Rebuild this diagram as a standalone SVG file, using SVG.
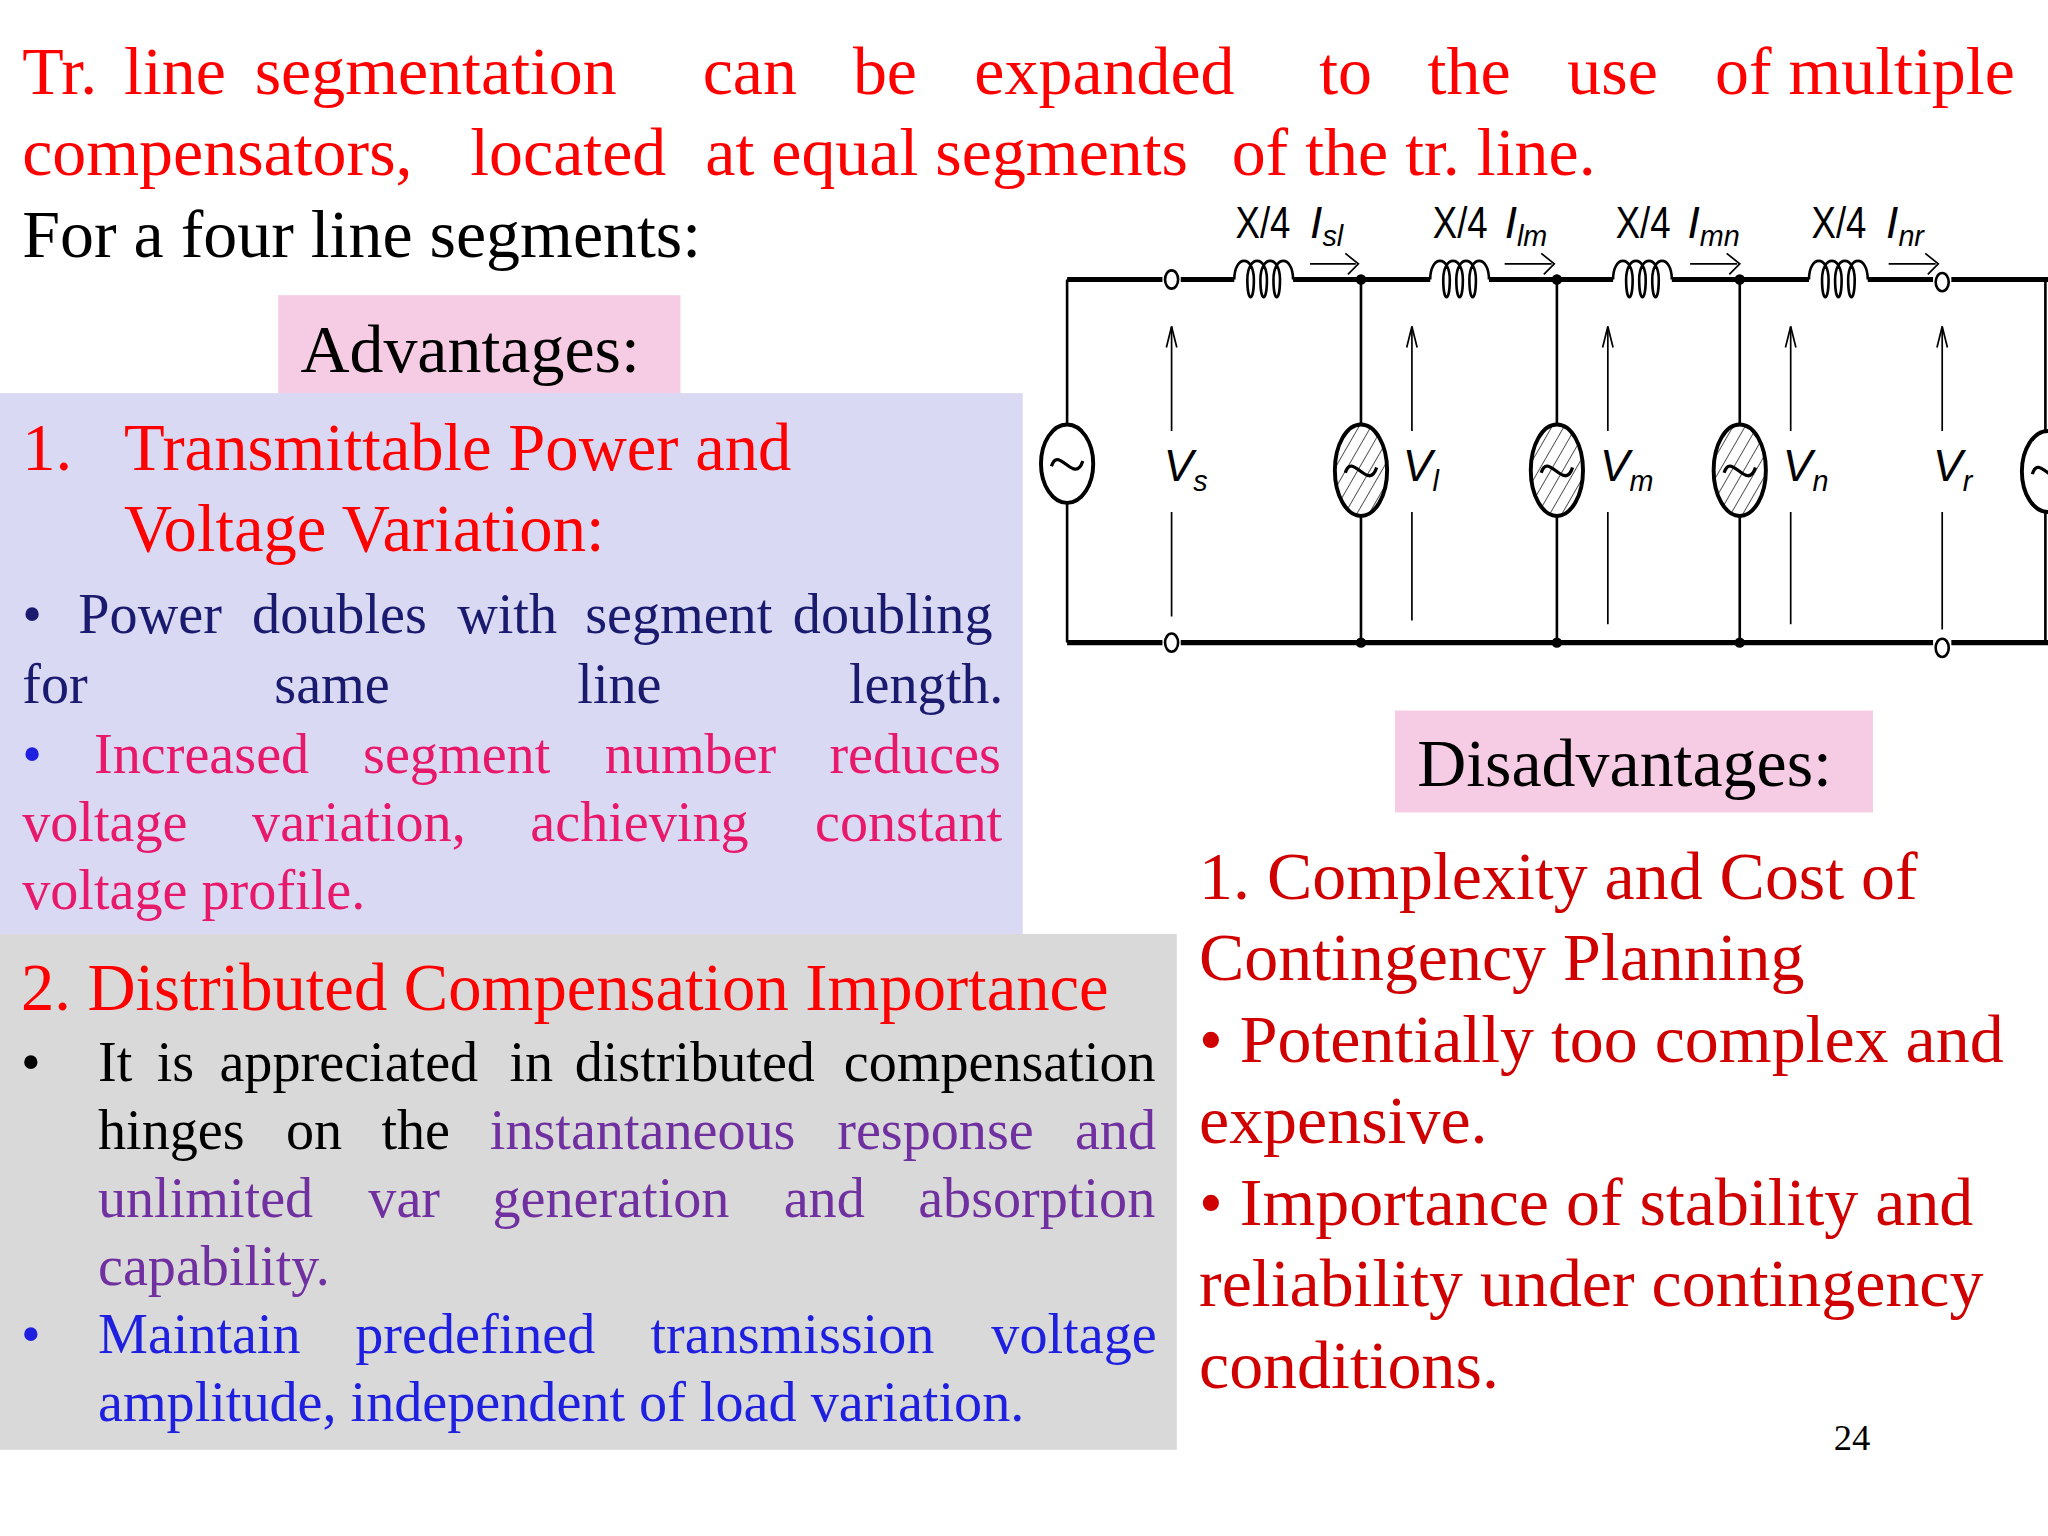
<svg xmlns="http://www.w3.org/2000/svg" width="2048" height="1536" viewBox="0 0 2048 1536">
<style>
text{font-family:"Liberation Serif","Times New Roman",serif}
.t{fill:#ff0000;font-size:52px}
.b{fill:#000;font-size:52px}
.adv{fill:#f00;font-size:51px}
.nv{fill:#1a1a6e;font-size:43px}
.pk{fill:#e8186b;font-size:43px}
.bk{fill:#000;font-size:43px}
.pu{fill:#7030a0;font-size:43px}
.bl{fill:#1f1fe0;font-size:43px}
.dr{fill:#d00000;font-size:52px}
.c text{font-family:"Liberation Sans",Arial,sans-serif;font-size:34px;fill:#000}
.w{stroke:#000;stroke-width:2;fill:none}
.wt{stroke:#000;stroke-width:4;fill:none}
.ar{stroke:#000;stroke-width:1.3;fill:none}
</style>
<defs>
<pattern id="h" width="8" height="8" patternUnits="userSpaceOnUse" patternTransform="rotate(30)"><line x1="0" y1="0" x2="0" y2="8" stroke="#000" stroke-width="1"/></pattern>
</defs>
<rect width="2048" height="1536" fill="#fff"/>
<g transform="scale(1.30612)">
<g id="bg">
<rect x="213" y="226" width="308" height="76" fill="#f6cce4"/>
<rect x="0" y="301" width="783" height="414" fill="#d9d9f3"/>
<rect x="0" y="715" width="901" height="395" fill="#d9d9d9"/>
<rect x="1068" y="544" width="366" height="78" fill="#f6cce4"/>
</g>
<g id="title">
<text class="t" y="72"><tspan x="17">Tr.</tspan><tspan x="95">line</tspan><tspan x="195">segmentation</tspan><tspan x="538">can</tspan><tspan x="653">be</tspan><tspan x="746">expanded</tspan><tspan x="1010">to</tspan><tspan x="1093">the</tspan><tspan x="1200">use</tspan><tspan x="1313">of multiple</tspan></text>
<text class="t" y="134"><tspan x="17">compensators,</tspan><tspan x="360">located</tspan><tspan x="540">at equal segments</tspan><tspan x="943">of the tr. line.</tspan></text>
<text class="b" x="17" y="197">For a four line segments:</text>
</g>
<g id="advantages">
<text class="b" x="230" y="285" font-size="50">Advantages:</text>
<text class="adv" x="17" y="360">1.</text>
<text class="adv" x="95" y="360">Transmittable Power and</text>
<text class="adv" x="95" y="422">Voltage Variation:</text>
<text class="nv" y="485"><tspan x="17">•</tspan><tspan x="60">Power</tspan><tspan x="193">doubles</tspan><tspan x="350">with</tspan><tspan x="448">segment</tspan><tspan x="607">doubling</tspan></text>
<text class="nv" y="538"><tspan x="17">for</tspan><tspan x="210">same</tspan><tspan x="442">line</tspan><tspan x="650">length.</tspan></text>
<text class="pk" y="592"><tspan x="17" fill="#1f1fe0">•</tspan><tspan x="72">Increased</tspan><tspan x="278">segment</tspan><tspan x="463">number</tspan><tspan x="635">reduces</tspan></text>
<text class="pk" y="644"><tspan x="17">voltage</tspan><tspan x="193">variation,</tspan><tspan x="406">achieving</tspan><tspan x="624">constant</tspan></text>
<text class="pk" x="17" y="696">voltage profile.</text>
</g>
<g id="distributed">
<text class="adv" x="16" y="773">2. Distributed Compensation Importance</text>
<text class="bk" x="16" y="828">•</text>
<text class="bk" y="828"><tspan x="75">It</tspan><tspan x="120">is</tspan><tspan x="168">appreciated</tspan><tspan x="390">in</tspan><tspan x="440">distributed</tspan><tspan x="646">compensation</tspan></text>
<text class="bk" y="880"><tspan x="75">hinges</tspan><tspan x="219">on</tspan><tspan x="292">the</tspan></text>
<text class="pu" y="880"><tspan x="375">instantaneous</tspan><tspan x="641">response</tspan><tspan x="823">and</tspan></text>
<text class="pu" y="932"><tspan x="75">unlimited</tspan><tspan x="282">var</tspan><tspan x="377">generation</tspan><tspan x="600">and</tspan><tspan x="703">absorption</tspan></text>
<text class="pu" x="75" y="984">capability.</text>
<text class="bl" x="16" y="1036">•</text>
<text class="bl" y="1036"><tspan x="75">Maintain</tspan><tspan x="272">predefined</tspan><tspan x="498">transmission</tspan><tspan x="759">voltage</tspan></text>
<text class="bl" x="75" y="1088">amplitude, independent of load variation.</text>
</g>
<g id="disadvantages">
<text class="b" x="1085" y="602" font-size="51">Disadvantages:</text>
<text class="dr" x="918" y="688">1. Complexity and Cost of</text>
<text class="dr" x="918" y="750">Contingency Planning</text>
<text class="dr" x="918" y="813">• Potentially too complex and</text>
<text class="dr" x="918" y="875">expensive.</text>
<text class="dr" x="918" y="938">• Importance of stability and</text>
<text class="dr" x="918" y="1000">reliability under contingency</text>
<text class="dr" x="918" y="1063">conditions.</text>
<text x="1404" y="1110" font-size="28" fill="#000">24</text>
</g>
<g id="circuit" class="c">
<g id="connectors">
<path class="wt" d="M817,214 H890 M904,214 H945 M990,214 H1095 M1140,214 H1235 M1280,214 H1385 M1430,214 H1480 M1494,214 H1568"/>
<path class="wt" d="M817,492 H890 M904,492 H1480 M1494,492 H1568"/>
<path class="w" d="M817,214 V325 M817,385 V492 M1042,214 V325 M1042,395 V492 M1192,214 V325 M1192,395 V492 M1332,214 V325 M1332,395 V492 M1566,214 V330 M1566,392 V492"/>
<path class="ar" d="M897,330 V250 M1081,330 V250 M1231,330 V250 M1371,330 V250 M1487,330 V250"/>
<path class="ar" d="M893,266 L897,250 L901,266 M1077,266 L1081,250 L1085,266 M1227,266 L1231,250 L1235,266 M1367,266 L1371,250 L1375,266 M1483,266 L1487,250 L1491,266"/>
<path class="ar" d="M897,392 V472 M1081,392 V475 M1231,392 V478 M1371,392 V478 M1487,392 V482"/>
<path class="ar" stroke-width="3" stroke="#444" d="M1003,202 H1038 M1152,202 H1188 M1294,202 H1330 M1446,202 H1482"/>
<path class="ar" stroke-width="1.5" d="M1030,194 L1040,202 L1032,210 M1180,194 L1190,202 L1182,210 M1322,194 L1332,202 L1324,210 M1474,194 L1484,202 L1476,210"/>
</g>
<g id="terminals" fill="#fff" stroke="#000" stroke-width="2">
<ellipse cx="897" cy="214" rx="5" ry="7"/><ellipse cx="897" cy="492" rx="5" ry="7"/>
<ellipse cx="1487" cy="216" rx="5" ry="7"/><ellipse cx="1487" cy="496" rx="5" ry="7"/>
</g>
<g id="nodes" fill="#000"><circle cx="1042" cy="214" r="4"/><circle cx="1192" cy="214" r="4"/><circle cx="1332" cy="214" r="4"/><circle cx="1042" cy="492" r="4"/><circle cx="1192" cy="492" r="4"/><circle cx="1332" cy="492" r="4"/></g>
<g id="inductors" class="w" stroke-width="2.5">
<path d="M945,214 C945,195 960,195 960,214 C960,232 955,232 955,214 C955,195 970,195 970,214 C970,232 965,232 965,214 C965,195 980,195 980,214 C980,232 975,232 975,214 C975,195 990,195 990,214"/>
<path transform="translate(150,0)" d="M945,214 C945,195 960,195 960,214 C960,232 955,232 955,214 C955,195 970,195 970,214 C970,232 965,232 965,214 C965,195 980,195 980,214 C980,232 975,232 975,214 C975,195 990,195 990,214"/>
<path transform="translate(290,0)" d="M945,214 C945,195 960,195 960,214 C960,232 955,232 955,214 C955,195 970,195 970,214 C970,232 965,232 965,214 C965,195 980,195 980,214 C980,232 975,232 975,214 C975,195 990,195 990,214"/>
<path transform="translate(440,0)" d="M945,214 C945,195 960,195 960,214 C960,232 955,232 955,214 C955,195 970,195 970,214 C970,232 965,232 965,214 C965,195 980,195 980,214 C980,232 975,232 975,214 C975,195 990,195 990,214"/>
</g>
<g id="sources" stroke="#000" stroke-width="3">
<ellipse cx="817" cy="355" rx="20" ry="30" fill="#fff"/>
<ellipse cx="1042" cy="360" rx="20" ry="35" fill="url(#h)"/>
<ellipse cx="1192" cy="360" rx="20" ry="35" fill="url(#h)"/>
<ellipse cx="1332" cy="360" rx="20" ry="35" fill="url(#h)"/>
<ellipse cx="1568" cy="361" rx="20" ry="31" fill="#fff"/>
<path d="M805,357 C810,340 823,372 829,353 M1030,362 C1035,345 1048,377 1054,358 M1180,362 C1185,345 1198,377 1204,358 M1320,362 C1325,345 1338,377 1344,358 M1556,363 C1561,346 1574,378 1580,359" fill="none" stroke-width="2.5"/>
</g>
<g id="labels">
<text x="946" y="182" textLength="42" lengthAdjust="spacingAndGlyphs">X/4</text>
<text x="1003" y="182" font-style="italic">I<tspan font-size="22" dy="6">sl</tspan></text>
<text x="1097" y="182" textLength="42" lengthAdjust="spacingAndGlyphs">X/4</text>
<text x="1152" y="182" font-style="italic">I<tspan font-size="22" dy="6">lm</tspan></text>
<text x="1237" y="182" textLength="42" lengthAdjust="spacingAndGlyphs">X/4</text>
<text x="1292" y="182" font-style="italic">I<tspan font-size="22" dy="6">mn</tspan></text>
<text x="1387" y="182" textLength="42" lengthAdjust="spacingAndGlyphs">X/4</text>
<text x="1444" y="182" font-style="italic">I<tspan font-size="22" dy="6">nr</tspan></text>
<text x="891" y="368" font-style="italic">V<tspan font-size="22" dy="8">s</tspan></text>
<text x="1074" y="368" font-style="italic">V<tspan font-size="22" dy="8">l</tspan></text>
<text x="1225" y="368" font-style="italic">V<tspan font-size="22" dy="8">m</tspan></text>
<text x="1365" y="368" font-style="italic">V<tspan font-size="22" dy="8">n</tspan></text>
<text x="1480" y="368" font-style="italic">V<tspan font-size="22" dy="8">r</tspan></text>
</g>
</g>
</g>
</svg>
